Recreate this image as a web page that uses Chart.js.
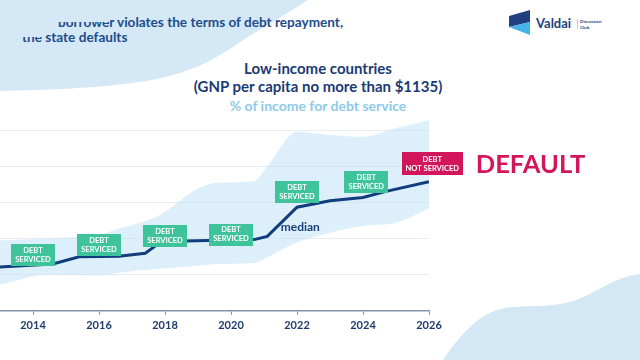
<!DOCTYPE html>
<html>
<head>
<meta charset="utf-8">
<script src="https://cdn.jsdelivr.net/npm/chart.js@4.4.1/dist/chart.umd.min.js"></script>
<style>
  body { margin: 0; width: 640px; height: 360px; overflow: hidden; background: #fff; font-family: Lato, "Open Sans", sans-serif; }
  #bg, #chart { position: absolute; left: 0; top: 0; }
  .txt { position: absolute; white-space: nowrap; font-weight: bold; }
  .lead { color: #1f4d8c; font-size: 13.6px; line-height: 17px; }
  .cover { position: absolute; background: #d5e8f5; }
  .title { left: 0; width: 636px; text-align: center; color: #1b3a73; font-size: 15px; line-height: 18px; top: 59px; }
  .sub { left: 0; width: 636px; text-align: center; color: #8ecae9; font-size: 14px; line-height: 17px; top: 97px; }
</style>
</head>
<body>
<svg id="bg" width="640" height="360">
  <path d="M0,0 L308,0 C285,15 262,28 240,42 C220,56 200,68 170,76 C130,86 80,89 0,91 Z" fill="#d5e8f5"/>
  <path d="M443,360 C460,335 480,312 505,308 C525,305 545,308 570,302 C595,295 610,278 640,274 L640,360 Z" fill="#d3e7f5"/>
  <polygon points="509,16 530,10 530,22 509,27" fill="#1f3f80"/>
  <polygon points="509,27 530,22 530,35" fill="#43b3ea"/>
  <text x="536" y="28" font-family="Lato" font-weight="bold" font-size="13" fill="#1f3f80">Valdai</text>
  <line x1="577.5" y1="19" x2="577.5" y2="29" stroke="#9fb0c8" stroke-width="0.6"/>
  <text x="580" y="23" font-family="Lato" font-weight="bold" font-size="4.5" fill="#1f3f80">Discussion</text>
  <text x="580" y="28.5" font-family="Lato" font-weight="bold" font-size="4.5" fill="#1f3f80">Club</text>
</svg>
<div class="txt lead" style="left:58px; top:14px;">borrower violates the terms of debt repayment,</div>
<div class="cover" style="left:56px; top:10px; width:54px; height:12px;"></div>
<div class="txt lead" style="left:22px; top:29px;">the state defaults</div>
<div class="cover" style="left:20px; top:25px; width:25px; height:12px;"></div>
<div class="txt title">Low-income countries<br>(GNP per capita no more than $1135)</div>
<div class="txt sub">% of income for debt service</div>
<canvas id="chart" width="640" height="360"></canvas>
<script>
// median, % of income for debt service
const medianYears = [2013, 2014.6, 2015.4, 2016.6, 2017.4, 2017.9, 2020.7, 2021.1, 2022, 2023, 2024, 2024.7, 2026];
const medianValues = [12.2, 13.0, 15.0, 15.2, 16.0, 19.3, 19.8, 20.7, 28.8, 30.6, 31.5, 33.2, 35.9];

// spread band around the median
const bandYears = [2013, 2014.5, 2016, 2016.6, 2017.8, 2019, 2019.6, 2020.7, 2021.1, 2022, 2023, 2024, 2025, 2026];
const bandUpper = [19.6, 20.1, 21.2, 22.8, 26.4, 34.0, 35.6, 36.1, 40.2, 49.7, 48.9, 48.4, 50.8, 53.0];
const bandLower = [7.3, 10.1, 9.8, 10.6, 11.7, 12.5, 13.0, 13.3, 14.9, 19.0, 21.7, 23.6, 24.5, 28.5];

const tickYears = [2014, 2016, 2018, 2020, 2022, 2024, 2026];
const gridValues = [10, 20, 30, 40, 50];

// status boxes along the line
const labelYears = [2014, 2016, 2018, 2020, 2022, 2024.1, 2026.1];
const labelValues = [15.5, 18.2, 20.7, 21.2, 32.9, 35.9, 40.9];
const labelTexts = ['DEBT\nSERVICED', 'DEBT\nSERVICED', 'DEBT\nSERVICED', 'DEBT\nSERVICED', 'DEBT\nSERVICED', 'DEBT\nSERVICED', 'DEBT\nNOT SERVICED'];
const labelKinds = ['ok', 'ok', 'ok', 'ok', 'ok', 'ok', 'default'];

const medianTag = { year: 2022.1, value: 23.2, text: 'median' };

const pts = (xs, ys) => xs.map((x, i) => ({ x: x, y: ys[i] }));

const annotations = {
  id: 'annotations',
  afterDatasetsDraw(chart) {
    const { ctx, scales: { x, y } } = chart;
    ctx.save();

    ctx.fillStyle = '#1b3f7a';
    ctx.font = 'bold 12px Lato';
    ctx.textAlign = 'center';
    ctx.textBaseline = 'middle';
    ctx.fillText(medianTag.text, x.getPixelForValue(medianTag.year), y.getPixelForValue(medianTag.value));

    labelTexts.forEach((t, i) => {
      const cx = x.getPixelForValue(labelYears[i]);
      const cy = y.getPixelForValue(labelValues[i]);
      const bad = labelKinds[i] === 'default';
      const w = bad ? 61 : 44, h = bad ? 23 : 22;
      ctx.fillStyle = bad ? '#d3165b' : '#3fc39a';
      ctx.fillRect(Math.round(cx - w / 2), Math.round(cy - h / 2), w, h);
      ctx.fillStyle = '#fff';
      ctx.font = 'bold 7.5px Lato';
      ctx.textAlign = 'center';
      ctx.textBaseline = 'middle';
      t.split('\n').forEach((line, j) => ctx.fillText(line, cx, cy - 4.5 + j * 9));
      if (bad) {
        ctx.fillStyle = '#d3165b';
        ctx.font = 'bold 25.5px Lato';
        ctx.textAlign = 'left';
        ctx.textBaseline = 'alphabetic';
        ctx.fillText('DEFAULT', cx + w / 2 + 13, cy + 9);
      }
    });
    ctx.restore();
  }
};

Chart.defaults.font.family = 'Lato';

new Chart(document.getElementById('chart'), {
  type: 'line',
  data: {
    datasets: [
      {
        label: 'median',
        data: pts(medianYears, medianValues),
        borderColor: '#123d7c',
        borderWidth: 3,
        pointRadius: 0,
        tension: 0,
        fill: false
      },
      {
        label: 'upper',
        data: pts(bandYears, bandUpper),
        borderWidth: 0,
        borderColor: 'transparent',
        pointRadius: 0,
        cubicInterpolationMode: 'monotone',
        backgroundColor: 'rgba(188,223,247,0.5)',
        fill: '+1'
      },
      {
        label: 'lower',
        data: pts(bandYears, bandLower),
        borderWidth: 0,
        borderColor: 'transparent',
        pointRadius: 0,
        cubicInterpolationMode: 'monotone',
        fill: false
      }
    ]
  },
  options: {
    responsive: false,
    devicePixelRatio: 1,
    animation: false,
    layout: { padding: { left: 0, right: 211, top: 113, bottom: 24 } },
    plugins: { legend: { display: false }, tooltip: { enabled: false } },
    scales: {
      x: {
        type: 'linear',
        min: 2013,
        max: 2026,
        afterBuildTicks: s => { s.ticks = tickYears.map(v => ({ value: v })); },
        grid: { drawOnChartArea: false, drawTicks: true, tickLength: 4, color: '#7f95ad' },
        border: { color: '#7f95ad', width: 1.5 },
        ticks: { color: '#1d3c6e', font: { size: 11, weight: 'bold' }, padding: 4, maxRotation: 0, callback: v => String(v) }
      },
      y: {
        min: 0,
        max: 55,
        afterBuildTicks: s => { s.ticks = gridValues.map(v => ({ value: v })); },
        grid: { color: '#e8ecf1', lineWidth: 1, drawTicks: false },
        border: { display: false },
        ticks: { display: false }
      }
    }
  },
  plugins: [annotations]
});
</script>
</body>
</html>
